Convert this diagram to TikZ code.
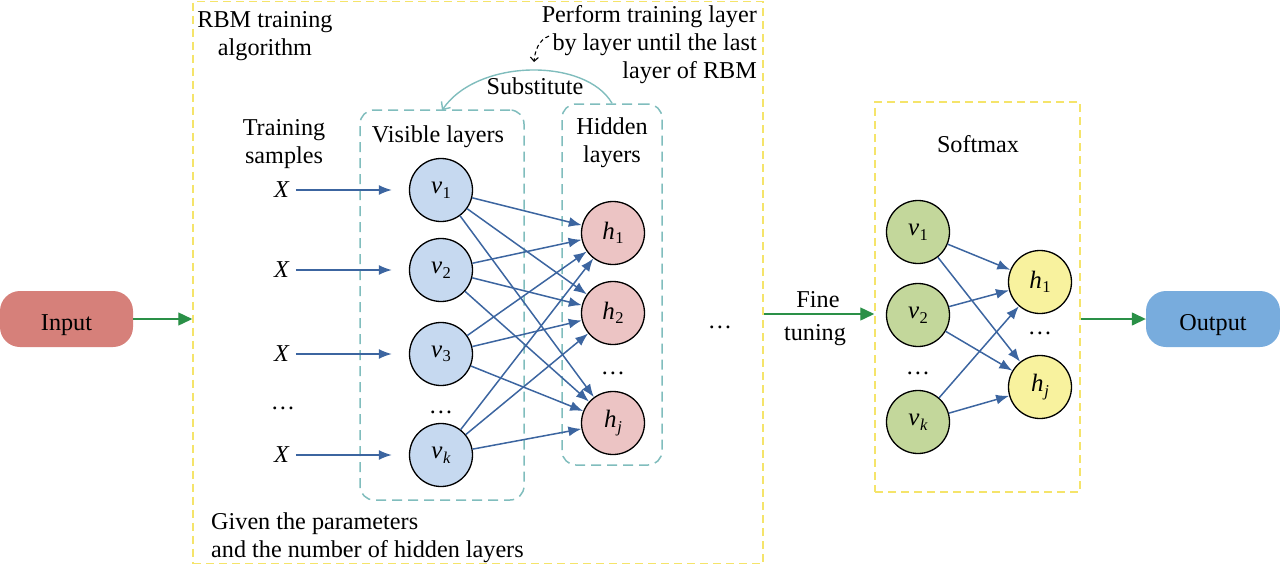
\documentclass[tikz,border=0pt]{standalone}
\usepackage{fontspec}
\setmainfont{Liberation Serif}
\usetikzlibrary{arrows.meta}
\definecolor{inputc}{HTML}{D6807A}
\definecolor{outputc}{HTML}{78ACDD}
\definecolor{vblue}{HTML}{C6D9F0}
\definecolor{hpink}{HTML}{ECC4C4}
\definecolor{sgreen}{HTML}{C3D79B}
\definecolor{tyellow}{HTML}{F8F29E}
\definecolor{dyellow}{HTML}{F5E46A}
\definecolor{dteal}{HTML}{80BDBD}
\definecolor{lblue}{HTML}{3C65A0}
\definecolor{lgreen}{HTML}{2A9047}
\newcommand\nsub[2]{\textit{#1}\kern0.6pt\raisebox{-0.4ex}{\fontsize{16.5}{16.5}\selectfont #2}}
\tikzset{
  every node/.style={font=\fontsize{24.2}{28}\selectfont, inner sep=0pt},
  ybox/.style={draw=dyellow, line width=1.5pt, dash pattern=on 8pt off 5pt},
  tbox/.style={draw=dteal, line width=1.5pt, dash pattern=on 10pt off 6pt, rounded corners=14pt},
  iobox/.style={rounded corners=20pt, minimum height=56pt, text height=22pt, text depth=0pt},
  neuron/.style={circle, draw=black, line width=1.3pt, minimum size=63pt, inner sep=0pt, font=\fontsize{25}{28}\selectfont},
  barrow/.style={draw=lblue, line width=1.5pt, -{Latex[length=13pt,width=10pt]}},
  garrow/.style={draw=lgreen, line width=1.4pt, -{Triangle[length=14pt,width=13pt]}},
  tarrow/.style={draw=dteal, line width=1.4pt, -{Straight Barb[length=6pt,width=11pt]}},
}
\begin{document}
\begin{tikzpicture}[x=1pt,y=-1pt]
\useasboundingbox (0,0) rectangle (1280,566);
% frames
\node[ybox, minimum width=570pt, minimum height=562pt] (rbm) at (478,282.5) {};
\node[ybox, minimum width=205pt, minimum height=390pt] (sm) at (977.5,297) {};
\node[tbox, minimum width=164pt, minimum height=390pt] (vis) at (442,305) {};
\node[tbox, minimum width=100pt, minimum height=361pt] (hid) at (612,284.5) {};
% input / output
\node[iobox, fill=inputc, minimum width=133pt] (in) at (66.5,319) {Input};
\node[iobox, fill=outputc, minimum width=134pt] (out) at (1213,319) {Output};
% texts
\node[align=center] (rbmt) at (265,36) {RBM training\\algorithm};
\node[anchor=east, align=right] (perf) at (757,45) {Perform training layer\\by layer until the last\\layer of RBM};
\node (subs) at (535,86) {Substitute};
\node[align=center] (ts) at (284,144) {Training\\samples};
\node (vl) at (438,137) {Visible layers};
\node[align=center] (hl) at (612,143) {Hidden\\layers};
\node[anchor=west, align=left] (given) at (211,538) {Given the parameters\\and the number of hidden layers};
\node (sft) at (978,144) {Softmax};
\node (fine) at (818,300) {Fine};
\node (tun) at (815,335) {tuning};
\node (mdots) at (720,327) {…};
% training samples
\node (x1) at (282,190) {\textit{X}};
\node (x2) at (282,270) {\textit{X}};
\node (x3) at (282,354) {\textit{X}};
\node (xd) at (283,408) {…};
\node (xk) at (282,455) {\textit{X}};
% visible
\node[neuron, fill=vblue] (v1) at (441,190) {\nsub{v}{1}};
\node[neuron, fill=vblue] (v2) at (441,270) {\nsub{v}{2}};
\node[neuron, fill=vblue] (v3) at (441,354) {\nsub{v}{3}};
\node (vd) at (441,412) {…};
\node[neuron, fill=vblue] (vk) at (441,455) {\nsub{v}{\textit{k}}};
% hidden
\node[neuron, fill=hpink] (h1) at (613,233) {\nsub{h}{1}};
\node[neuron, fill=hpink] (h2) at (613,313) {\nsub{h}{2}};
\node (hd) at (613,373) {…};
\node[neuron, fill=hpink] (hj) at (613,423) {\nsub{h}{\textit{j}}};
% softmax
\node[neuron, fill=sgreen] (s1) at (918,232) {\nsub{v}{1}};
\node[neuron, fill=sgreen] (s2) at (918,315) {\nsub{v}{2}};
\node (sd) at (918,373) {…};
\node[neuron, fill=sgreen] (sk) at (918,422) {\nsub{v}{\textit{k}}};
\node[neuron, fill=tyellow] (t1) at (1040,282) {\nsub{h}{1}};
\node (td) at (1040,333) {…};
\node[neuron, fill=tyellow] (tj) at (1040,387) {\nsub{h}{\textit{j}}};
% input arrows
\foreach \a/\b in {x1/v1,x2/v2,x3/v3,xk/vk}
  \draw[barrow, shorten <=6pt, shorten >=17pt] (\a.east) -- (\a.east -| \b.west);
% RBM connections
\foreach \a in {v1,v2,v3,vk}
  \foreach \b in {h1,h2,hj}
    \draw[barrow] (\a) -- (\b);
% softmax connections
\foreach \a in {s1,s2,sk}
  \foreach \b in {t1,tj}
    \draw[barrow] (\a) -- (\b);
% green arrows
\coordinate (ft) at (800,314);
\draw[garrow] (in.east) -- (in.east -| rbm.west);
\draw[garrow] (rbm.east |- ft) -- (sm.west |- ft);
\draw[garrow] (sm.east |- out) -- (out.west);
% substitute arc
\draw[tarrow] (hid.north) .. controls (586,58) and (478,58) .. ([yshift=-1pt]vis.north);
% dashed pointer
\coordinate (da) at (549,36);
\coordinate (db) at (534,62);
\draw[black, line width=1.1pt, dash pattern=on 4pt off 3pt, -{Straight Barb[length=4pt,width=8pt]}] (da) .. controls (539,40) and (535,50) .. (db);
\end{tikzpicture}
\end{document}
